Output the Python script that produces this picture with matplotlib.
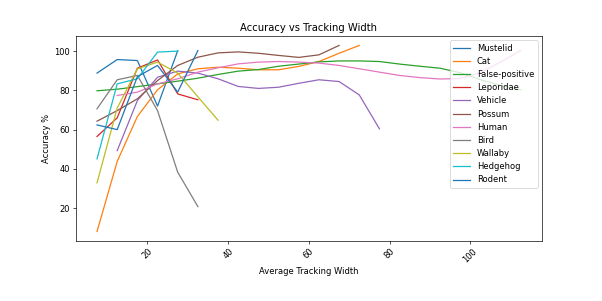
import matplotlib.pyplot as plt
import numpy as np

# bin centres of tracking width (step 5)
start = 7.5
step = 5

mustelid = [88.8, 95.7, 95.2, 72.0, 100.2]
cat = [8.1, 43.8, 66.7, 80.3, 88.4, 91.0, 91.8, 91.3, 90.5, 90.5, 92.2, 94.7, 98.9, 102.9]
false_positive = [79.8, 80.6, 81.9, 83.3, 84.7, 86.2, 88.1, 89.8, 90.6, 92.3, 93.4,
                  94.5, 95.0, 95.0, 94.7, 93.4, 92.3, 91.3, 89.0, 85.5, 82.5, 80.3]
leporidae = [56.5, 66.0, 91.3, 95.5, 78.2, 75.2]
vehicle = [49.3, 74.8, 86.7, 89.8, 88.8, 85.9, 82.0, 81.0, 81.6, 83.6, 85.4, 84.5, 77.7, 60.4]
possum = [64.3, 69.7, 75.7, 85.0, 92.7, 96.9, 99.1, 99.6, 98.9, 97.8, 96.8, 98.1, 102.9]
human = [77.4, 79.1, 83.3, 85.9, 89.3, 91.5, 93.5, 94.4, 94.7, 94.4, 93.9, 92.7, 91.0,
         89.3, 87.6, 86.5, 85.8, 86.0, 89.0, 94.4, 100.3]
bird = [70.6, 85.4, 87.6, 69.7, 38.3, 20.8]
wallaby = [32.9, 71.0, 91.0, 94.4, 88.8, 76.7, 64.8]
hedgehog = [45.1, 83.3, 85.9, 99.5, 100.0]
rodent = [62.4, 60.0, 87.0, 92.7, 79.1, 100.3]

# (label, values, first bin index)
series = [
    ('Mustelid', mustelid, 0),
    ('Cat', cat, 0),
    ('False-positive', false_positive, 0),
    ('Leporidae', leporidae, 0),
    ('Vehicle', vehicle, 1),
    ('Possum', possum, 0),
    ('Human', human, 1),
    ('Bird', bird, 0),
    ('Wallaby', wallaby, 0),
    ('Hedgehog', hedgehog, 0),
    ('Rodent', rodent, 0),
]

# drawn as a 10x5 figure and saved at a low dpi -> 602x301
fig = plt.figure(figsize=(10, 5))
ax = fig.add_axes([0.126, 0.2, 0.774, 0.68])

colors = plt.rcParams['axes.prop_cycle'].by_key()['color']
for i, (label, vals, first) in enumerate(series):
    x = start + step * (first + np.arange(len(vals)))
    ax.plot(x, vals, label=label, color=colors[i % 10])

ax.set_title('Accuracy vs Tracking Width')
ax.set_xlabel('Average Tracking Width')
ax.set_ylabel('Accuracy %')
ax.set_xticks([20, 40, 60, 80, 100])
ax.set_yticks([20, 40, 60, 80, 100])
plt.setp(ax.get_xticklabels(), rotation=45)
ax.legend(loc='upper right')

fig.savefig('out.png', dpi=60.2)
